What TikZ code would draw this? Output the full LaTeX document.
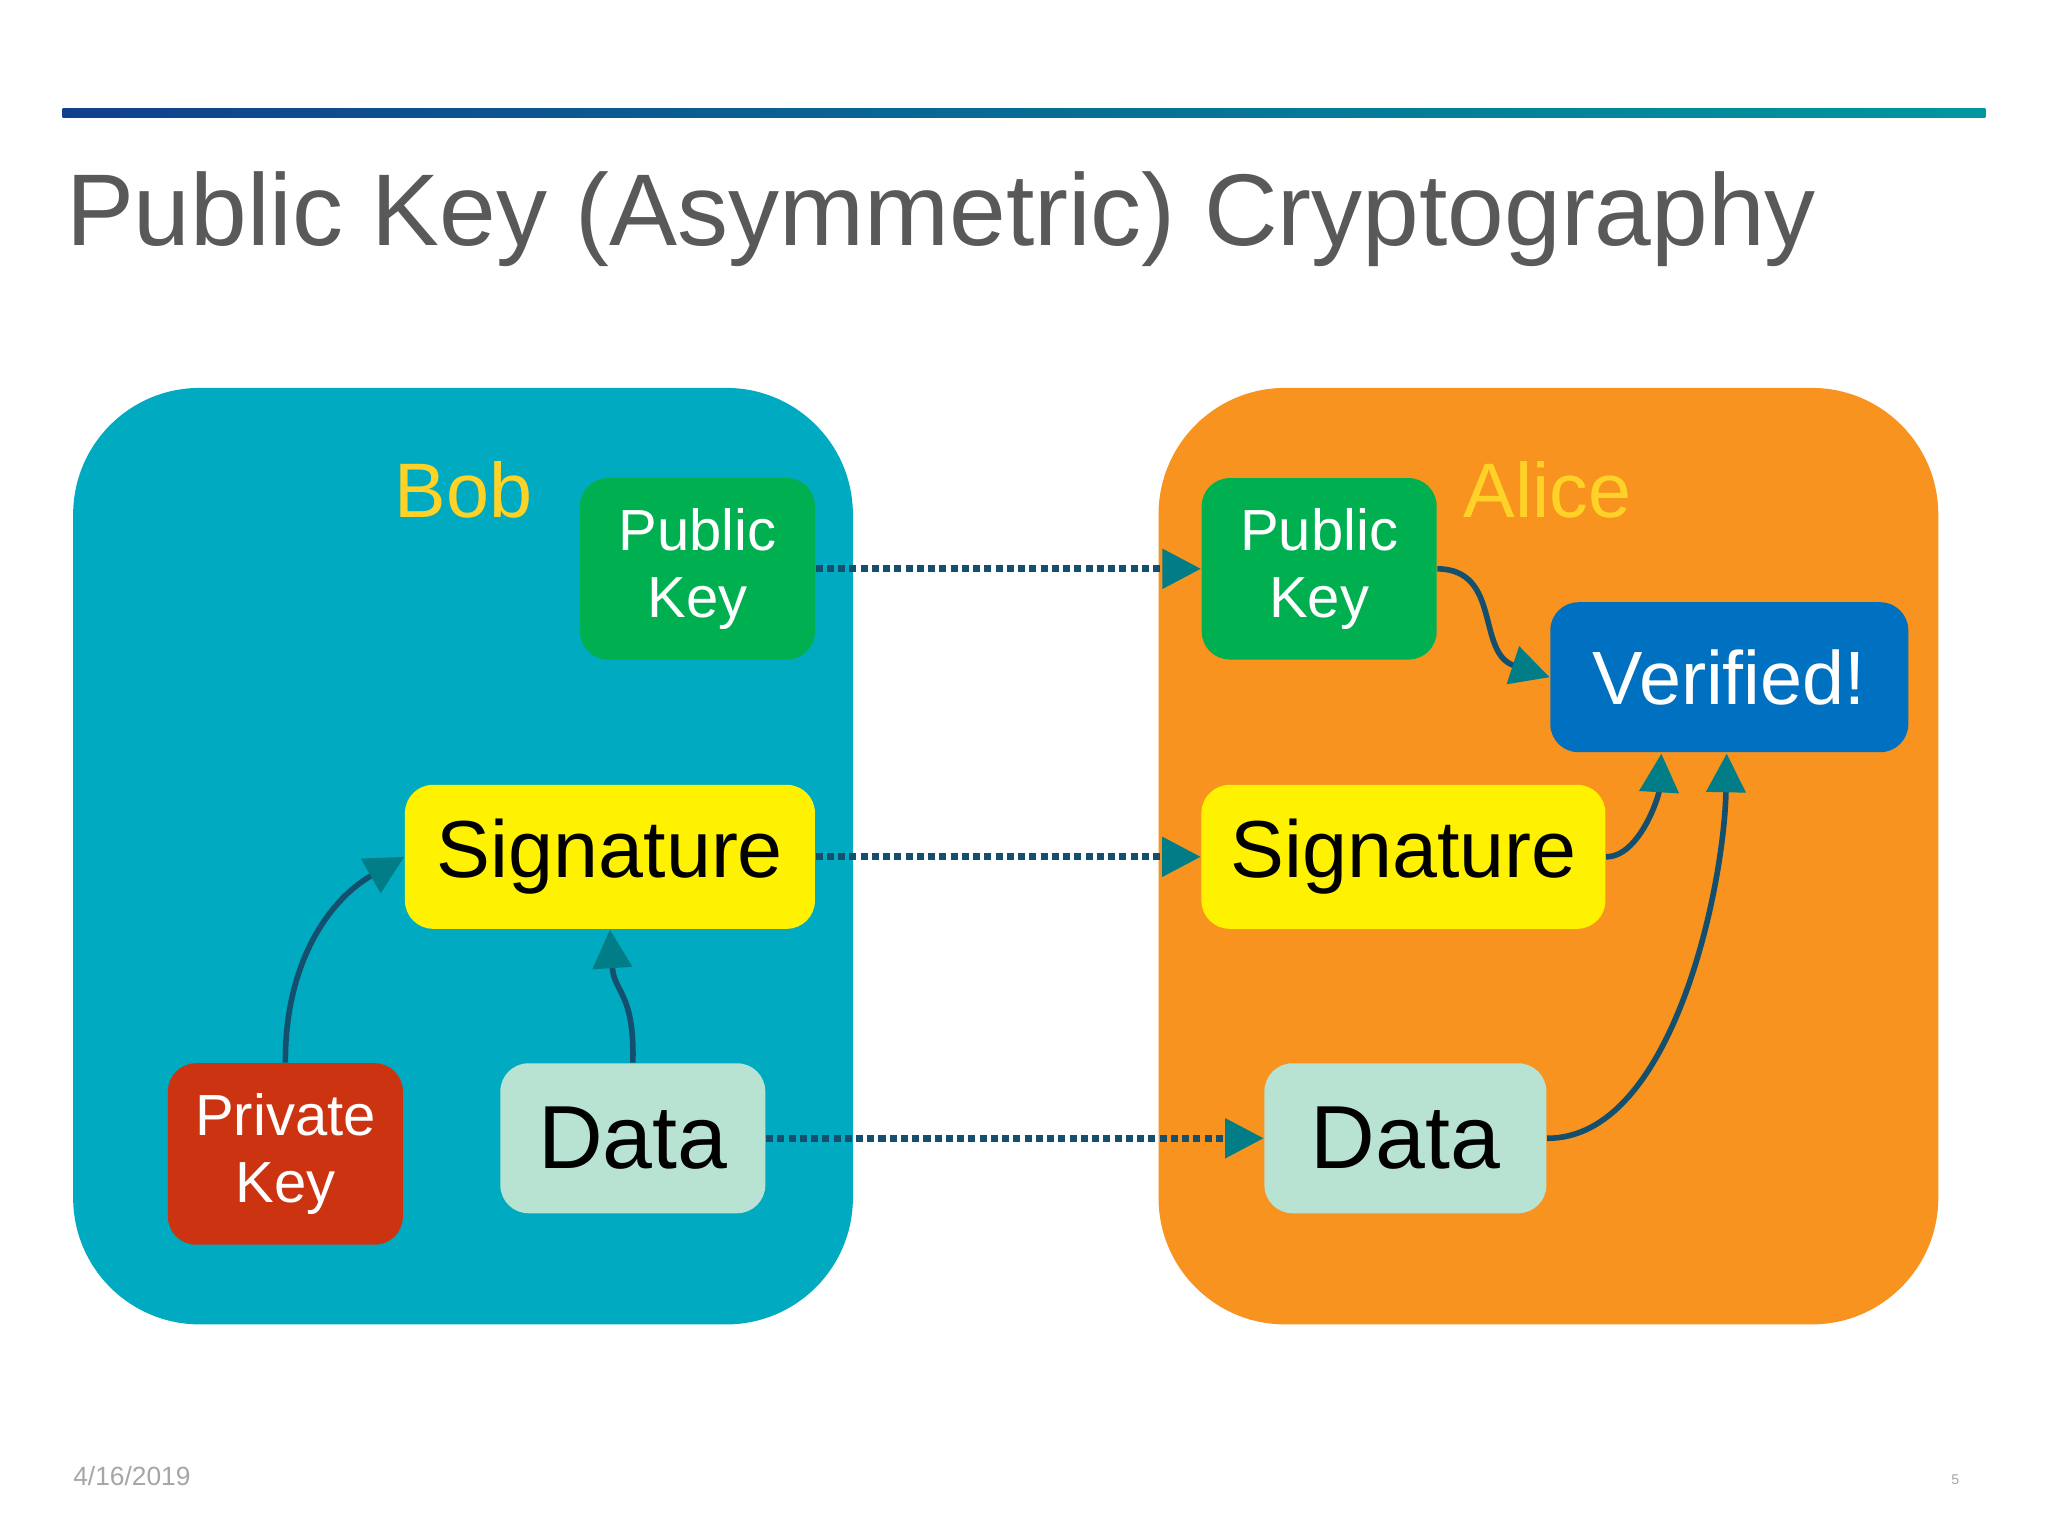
\documentclass[tikz,border=0pt]{standalone}
\usepackage{fontspec}
\setmainfont{Liberation Sans}
\usetikzlibrary{arrows.meta}
\definecolor{bobc}{RGB}{0,170,192}
\definecolor{alic}{RGB}{247,147,30}
\definecolor{namec}{RGB}{255,210,40}
\definecolor{pkc}{RGB}{0,176,80}
\definecolor{pvc}{RGB}{204,51,17}
\definecolor{datc}{RGB}{184,226,210}
\definecolor{verc}{RGB}{0,112,192}
\definecolor{arrc}{RGB}{20,80,110}
\definecolor{tipc}{RGB}{0,125,135}
\definecolor{titc}{RGB}{89,89,89}
\begin{document}
\begin{tikzpicture}[x=0.013061cm,y=-0.013061cm,
  box/.style={rounded corners=8pt,inner sep=0pt,align=center},
  pk/.style={box,fill=pkc,text=white,font=\fontsize{16.5}{19}\selectfont,minimum width=2.35cm,minimum height=1.815cm},
  dot/.style={draw=arrc,line width=1.9pt,dash pattern=on 2pt off 1.2pt,-{Triangle[length=11pt,width=11pt,color=tipc]}},
  cur/.style={draw=arrc,line width=1.6pt,-{Triangle[length=11pt,width=11pt,color=tipc]}}]
\useasboundingbox (0,0) rectangle (1568,1176);
\fill[white] (0,0) rectangle (1568,1176);
\shade[left color=arrc!80!blue,right color=tipc!80!cyan] (48,83) rectangle (1520,90);
\node[anchor=base west,text=titc,font=\fontsize{29}{34}\selectfont,inner sep=0pt] (title) at (50,188) {Public Key (Asymmetric) Cryptography};
\fill[bobc,rounded corners=36pt] (56,297) rectangle (653,1014);
\fill[alic,rounded corners=36pt] (887,297) rectangle (1484,1014);
\node[text=namec,font=\fontsize{22}{26}\selectfont] (bob) at (355,375) {Bob};
\node[text=namec,font=\fontsize{22}{26}\selectfont] (alice) at (1185,375) {Alice};
% Bob
\node[pk] (bpk) at (534,435.5) {Public\\Key};
\node[box,fill=yellow,font=\fontsize{23}{28}\selectfont,minimum width=4.1cm,minimum height=1.44cm] (bsig) at (467,656) {Signature};
\node[pk,fill=pvc] (bpv) at (218.5,883.5) {Private\\Key};
\node[box,fill=datc,font=\fontsize{25.5}{30}\selectfont,minimum width=2.65cm,minimum height=1.5cm] (bdat) at (484.5,871.5) {Data};
% Alice
\node[pk] (apk) at (1010,435.5) {Public\\Key};
\node[box,fill=verc,text=white,font=\fontsize{21.5}{26}\selectfont,minimum width=3.58cm,minimum height=1.5cm] (ver) at (1324,518.5) {Verified!};
\node[box,fill=yellow,font=\fontsize{23}{28}\selectfont,minimum width=4.04cm,minimum height=1.44cm] (asig) at (1074.5,656) {Signature};
\node[box,fill=datc,font=\fontsize{25.5}{30}\selectfont,minimum width=2.82cm,minimum height=1.5cm] (adat) at (1076,871.5) {Data};
% dotted
\draw[dot] (bpk.east) -- (apk.west);
\draw[dot] (bsig.east) -- (asig.west);
\draw[dot] (bdat.east) -- (adat.west);
% curves
\draw[cur] (bpv.north) .. controls (218,740) and (250,690) .. (bsig.west);
\draw[cur] (bdat.north) .. controls (486,760) and (470,760) .. (bsig.south);
\draw[cur] (apk.east) .. controls (1150,436) and (1130,500) .. (ver.west);
\draw[cur] (asig.east) .. controls (1255,656) and (1270,610) .. (1272,577);
\draw[cur] (adat.east) .. controls (1280,872) and (1320,680) .. (1322,577);
\node[text=gray!70,font=\fontsize{7.5}{9}\selectfont] (date) at (101,1130) {4/16/2019};
\node[text=gray!70,font=\fontsize{4}{5}\selectfont] (pg) at (1497,1133) {5};
\end{tikzpicture}
\end{document}
